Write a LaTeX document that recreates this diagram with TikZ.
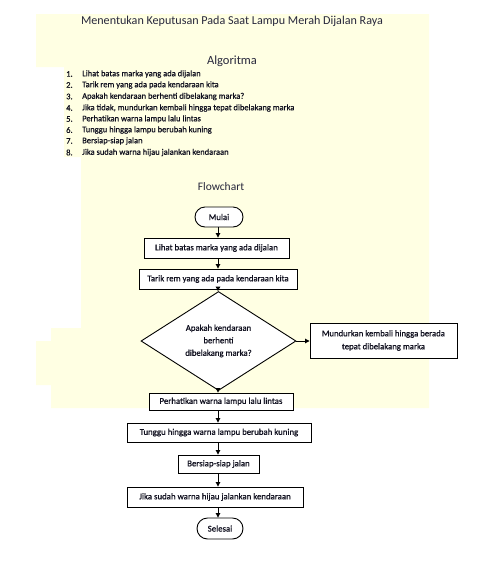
\documentclass[tikz,border=0pt]{standalone}
\usepackage{fontspec}
\setmainfont{Carlito}
\newfontfamily\smallfont[FakeBold=0.6]{Carlito}
\usetikzlibrary{arrows.meta,shapes.geometric,shapes.misc}
\definecolor{bgyellow}{RGB}{255,255,227}
\definecolor{ink}{RGB}{15,15,30}
\definecolor{titleink}{RGB}{40,40,60}
\begin{document}
\begin{tikzpicture}[x=1pt,y=-1pt,
  box/.style={draw=black,line width=0.9pt,fill=white,inner sep=0pt,font=\smallfont\fontsize{8.8}{10}\selectfont,text=ink},
  term/.style={box,rounded rectangle},
  arr/.style={draw=black,line width=0.9pt,-{Triangle[length=4.5pt,width=4.5pt]}},
  item/.style={anchor=west,inner sep=0pt,font=\smallfont\fontsize{8.5}{10}\selectfont,text=ink},
  heading/.style={inner sep=0pt,text=titleink}]
\useasboundingbox (0,0) rectangle (477,566);
\fill[bgyellow] (36,14) -- (429,14) -- (429,408) -- (51,408) -- (51,385) -- (36,385) -- (36,341) -- (51,341) -- (51,328) -- (81,328) -- (81,157) -- (64,157) -- (64,67) -- (36,67) -- cycle;

\node[heading,font=\fontsize{12.1}{14}\selectfont] (title) at (232,21) {Menentukan Keputusan Pada Saat Lampu Merah Dijalan Raya};
\node[heading,font=\fontsize{12.5}{14}\selectfont] (alg) at (232,61) {Algoritma};

\node[item] (n1) at (66,74) {1.};  \node[item] (t1) at (82,74) {Lihat batas marka yang ada dijalan};
\node[item] (n2) at (66,85) {2.};  \node[item] (t2) at (82,85) {Tarik rem yang ada pada kendaraan kita};
\node[item] (n3) at (66,96.5) {3.};  \node[item] (t3) at (82,96.5) {Apakah kendaraan berhenti dibelakang marka?};
\node[item] (n4) at (66,108) {4.}; \node[item] (t4) at (82,108) {Jika tidak, mundurkan kembali hingga tepat dibelakang marka};
\node[item] (n5) at (66,119) {5.}; \node[item] (t5) at (82,119) {Perhatikan warna lampu lalu lintas};
\node[item] (n6) at (66,130) {6.}; \node[item] (t6) at (82,130) {Tunggu hingga lampu berubah kuning};
\node[item] (n7) at (66,141) {7.}; \node[item] (t7) at (82,141) {Bersiap-siap jalan};
\node[item] (n8) at (66,152.5) {8.}; \node[item] (t8) at (82,152.5) {Jika sudah warna hijau jalankan kendaraan};

\node[heading,font=\fontsize{11.5}{14}\selectfont] (fc) at (221,187) {Flowchart};

\node[term,minimum width=48pt,minimum height=20pt] (m) at (219,217) {Mulai};
\node[box,minimum width=145pt,minimum height=20pt] (b1) at (216.5,248) {Lihat batas marka yang ada dijalan};
\node[box,minimum width=158pt,minimum height=20pt] (b2) at (218,279) {Tarik rem yang ada pada kendaraan kita};
\node[box,diamond,minimum width=155pt,minimum height=81pt,align=center,font=\smallfont\fontsize{8.7}{12.5}\selectfont] (d) at (218.5,341) {Apakah kendaraan\\berhenti\\dibelakang marka?};
\node[box,minimum width=147pt,minimum height=35pt,align=center,font=\smallfont\fontsize{8.7}{13}\selectfont] (r) at (383.5,340.5) {Mundurkan kembali hingga berada\\tepat dibelakang marka};
\node[box,minimum width=144pt,minimum height=17pt] (b3) at (221,401.5) {Perhatikan warna lampu lalu lintas};
\node[box,minimum width=184pt,minimum height=19pt] (b4) at (219,432.5) {Tunggu hingga warna lampu berubah kuning};
\node[box,minimum width=81pt,minimum height=18pt] (b5) at (218.5,464) {Bersiap-siap jalan};
\node[box,minimum width=176pt,minimum height=20pt] (b6) at (215,497) {Jika sudah warna hijau jalankan kendaraan};
\node[term,minimum width=46pt,minimum height=21pt] (s) at (220,528.5) {Selesai};

\coordinate (ax) at (218,0);
\draw[arr] (m.south -| ax) -- (b1.north -| ax);
\draw[arr] (b1.south -| ax) -- (b2.north -| ax);
\draw[arr] (b2.south -| ax) -- (d.north -| ax);
\draw[arr] (d.east) -- (d.east -| r.west);
\draw[arr] (d.south -| ax) -- (b3.north -| ax);
\draw[arr] (b3.south -| ax) -- (b4.north -| ax);
\draw[arr] (b4.south -| ax) -- (b5.north -| ax);
\draw[arr] (b5.south -| ax) -- (b6.north -| ax);
\draw[arr] (b6.south -| ax) -- (s.north -| ax);
\end{tikzpicture}
\end{document}
